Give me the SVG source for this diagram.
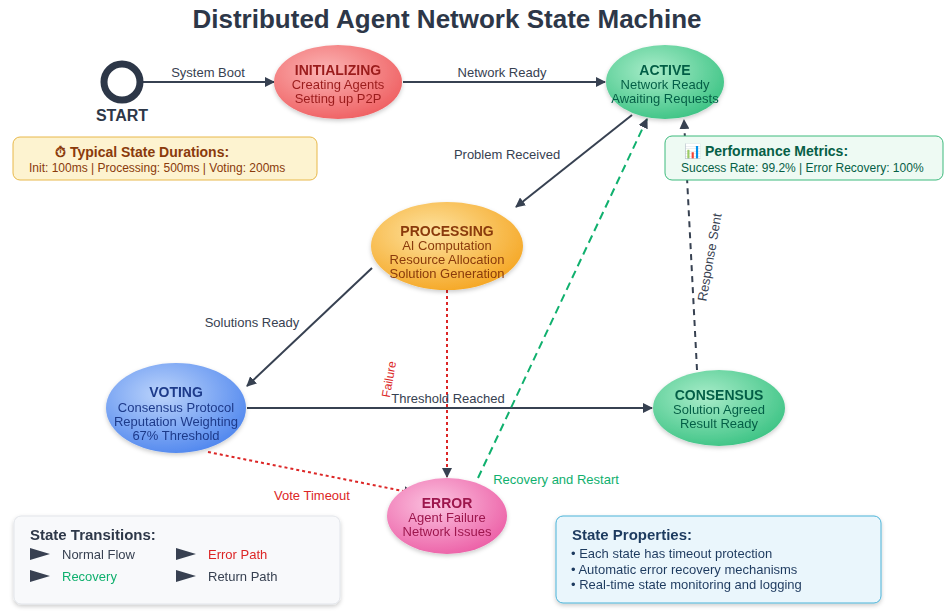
<svg xmlns="http://www.w3.org/2000/svg" width="949" height="614" viewBox="0 0 949 614">
<style>
text{font-family:"Liberation Sans",Arial,sans-serif}
.t{font-size:14px;font-weight:bold;text-anchor:middle}
.s{font-size:13px;text-anchor:middle}
.l{font-size:13px;fill:#374151;text-anchor:middle}
.e{stroke:#374151;stroke-width:2;fill:none}
</style>
<defs>
<marker id="a" viewBox="0 0 10 10" refX="9" refY="5" markerWidth="10" markerHeight="10" markerUnits="userSpaceOnUse" orient="auto"><path d="M0,0 10,5 0,10z" fill="#374151"/></marker>
<marker id="ar" viewBox="0 0 10 10" refX="9" refY="5" markerWidth="10" markerHeight="10" markerUnits="userSpaceOnUse" orient="auto"><path d="M0,0 10,5 0,10z" fill="#374151"/></marker>
<radialGradient id="gr" cx="0.4" cy="0.35" r="0.7"><stop offset="0" stop-color="#fbb4b4"/><stop offset="1" stop-color="#ef5f61"/></radialGradient>
<radialGradient id="gg" cx="0.4" cy="0.35" r="0.7"><stop offset="0" stop-color="#a8ecc9"/><stop offset="1" stop-color="#3cc384"/></radialGradient>
<radialGradient id="go" cx="0.4" cy="0.35" r="0.7"><stop offset="0" stop-color="#fde3a0"/><stop offset="1" stop-color="#f5a623"/></radialGradient>
<radialGradient id="gb" cx="0.4" cy="0.35" r="0.7"><stop offset="0" stop-color="#bcd4fb"/><stop offset="1" stop-color="#4f86ee"/></radialGradient>
<radialGradient id="gp" cx="0.4" cy="0.35" r="0.7"><stop offset="0" stop-color="#fbc3e0"/><stop offset="1" stop-color="#ec5fa6"/></radialGradient>
<filter id="sh" x="-20%" y="-20%" width="140%" height="150%"><feDropShadow dx="0" dy="2" stdDeviation="2" flood-opacity="0.2"/></filter>
</defs>
<rect width="949" height="614" fill="#fff"/>
<text x="447" y="28" font-size="26" font-weight="bold" fill="#2d3748" text-anchor="middle">Distributed Agent Network State Machine</text>

<g id="connectors">
<line class="e" x1="141" y1="82" x2="274" y2="82" marker-end="url(#a)"/>
<line class="e" x1="403" y1="82" x2="605" y2="82" marker-end="url(#a)"/>
<line class="e" x1="632" y1="115" x2="516" y2="207" marker-end="url(#a)"/>
<line class="e" x1="372" y1="268" x2="247" y2="386" marker-end="url(#a)"/>
<line class="e" x1="247" y1="408" x2="652" y2="408" marker-end="url(#a)"/>
<line x1="447" y1="290" x2="447" y2="477" stroke="#dc2626" stroke-width="2" stroke-dasharray="3,3" marker-end="url(#ar)"/>
<line x1="208" y1="452" x2="413" y2="493" stroke="#dc2626" stroke-width="2" stroke-dasharray="3,3" marker-end="url(#ar)"/>
<line x1="478" y1="478" x2="647" y2="119" stroke="#10b06e" stroke-width="2" stroke-dasharray="8,5" marker-end="url(#a)"/>
<line x1="697" y1="370" x2="684" y2="120" stroke="#374151" stroke-width="2" stroke-dasharray="6,5" marker-end="url(#a)"/>
<text class="l" x="208" y="77">System Boot</text>
<text class="l" x="502" y="77">Network Ready</text>
<text class="l" x="507" y="159">Problem Received</text>
<text class="l" x="252" y="327">Solutions Ready</text>
<text class="l" x="448" y="403">Threshold Reached</text>
<text x="393" y="380" font-size="12" fill="#dc2626" text-anchor="middle" transform="rotate(-80 393 380)">Failure</text>
<text x="312" y="500" font-size="13" fill="#dc2626" text-anchor="middle">Vote Timeout</text>
<text x="556" y="484" font-size="13" fill="#10b06e" text-anchor="middle">Recovery and Restart</text>
<text class="l" x="714" y="258" font-size="12" transform="rotate(-80 714 258)">Response Sent</text>
</g>

<g id="start">
<circle cx="122" cy="82" r="18" fill="#fff" stroke="#2d3748" stroke-width="7"/>
<text x="122" y="121" font-size="16" font-weight="bold" fill="#2d3748" text-anchor="middle">START</text>
</g>
<g id="initializing" filter="url(#sh)">
<ellipse cx="338" cy="82" rx="64" ry="37" fill="url(#gr)"/>
<text class="t" x="338" y="75" fill="#9b1c1c">INITIALIZING</text>
<text class="s" x="338" y="89" fill="#9b1c1c">Creating Agents</text>
<text class="s" x="338" y="103" fill="#9b1c1c">Setting up P2P</text>
</g>
<g id="active" filter="url(#sh)">
<ellipse cx="665" cy="82" rx="59" ry="37" fill="url(#gg)"/>
<text class="t" x="665" y="75" fill="#065f46">ACTIVE</text>
<text class="s" x="665" y="89" fill="#065f46">Network Ready</text>
<text class="s" x="665" y="103" fill="#065f46">Awaiting Requests</text>
</g>
<g id="processing" filter="url(#sh)">
<ellipse cx="447" cy="246" rx="76" ry="44" fill="url(#go)"/>
<text class="t" x="447" y="236" fill="#8a3a0b">PROCESSING</text>
<text class="s" x="447" y="250" fill="#8a3a0b">AI Computation</text>
<text class="s" x="447" y="264" fill="#8a3a0b">Resource Allocation</text>
<text class="s" x="447" y="278" fill="#8a3a0b">Solution Generation</text>
</g>
<g id="voting" filter="url(#sh)">
<ellipse cx="176" cy="408" rx="70" ry="45" fill="url(#gb)"/>
<text class="t" x="176" y="397" fill="#1e3a8a">VOTING</text>
<text class="s" x="176" y="412" fill="#1e3a8a">Consensus Protocol</text>
<text class="s" x="176" y="426" fill="#1e3a8a">Reputation Weighting</text>
<text class="s" x="176" y="440" fill="#1e3a8a">67% Threshold</text>
</g>
<g id="consensus" filter="url(#sh)">
<ellipse cx="719" cy="408" rx="66" ry="38" fill="url(#gg)"/>
<text class="t" x="719" y="400" fill="#065f46">CONSENSUS</text>
<text class="s" x="719" y="414" fill="#065f46">Solution Agreed</text>
<text class="s" x="719" y="428" fill="#065f46">Result Ready</text>
</g>
<g id="error" filter="url(#sh)">
<ellipse cx="447" cy="516" rx="60" ry="38" fill="url(#gp)"/>
<text class="t" x="447" y="508" fill="#9d174d">ERROR</text>
<text class="s" x="447" y="522" fill="#9d174d">Agent Failure</text>
<text class="s" x="447" y="536" fill="#9d174d">Network Issues</text>
</g>

<g id="durations">
<rect x="13" y="137" width="304" height="43" rx="7" fill="#fdf3d0" stroke="#e8b84a"/>
<text x="55" y="157" font-size="14" font-weight="bold" fill="#8a3a0b">⏱ Typical State Durations:</text>
<text x="29" y="172" font-size="12" fill="#8a3a0b">Init: 100ms | Processing: 500ms | Voting: 200ms</text>
</g>
<g id="metrics">
<rect x="665" y="136" width="278" height="44" rx="7" fill="#eefaf3" stroke="#3cba7c"/>
<text x="684" y="156" font-size="14" font-weight="bold" fill="#065f46">📊 Performance Metrics:</text>
<text x="681" y="172" font-size="12" fill="#065f46">Success Rate: 99.2% | Error Recovery: 100%</text>
</g>
<g id="legend" filter="url(#sh)">
<rect x="14" y="516" width="326" height="88" rx="7" fill="#f8f9fb" stroke="#e2e5ea"/>
<text x="30" y="540" font-size="15" font-weight="bold" fill="#2d3748">State Transitions:</text>
<path d="M30,548 50,554 30,560z M176,548 196,554 176,560z M30,570 50,576 30,582z M176,570 196,576 176,582z" fill="#374151"/>
<text x="62" y="559" font-size="13" fill="#374151">Normal Flow</text>
<text x="208" y="559" font-size="13" fill="#dc2626">Error Path</text>
<text x="62" y="581" font-size="13" fill="#10b06e">Recovery</text>
<text x="208" y="581" font-size="13" fill="#374151">Return Path</text>
</g>
<g id="properties" filter="url(#sh)">
<rect x="556" y="516" width="325" height="87" rx="7" fill="#eaf6fc" stroke="#4ab3d8"/>
<text x="572" y="540" font-size="15" font-weight="bold" fill="#1e3a5f">State Properties:</text>
<text x="571" y="558" font-size="13" fill="#1e3a5f">• Each state has timeout protection</text>
<text x="571" y="574" font-size="13" fill="#1e3a5f">• Automatic error recovery mechanisms</text>
<text x="571" y="589" font-size="13" fill="#1e3a5f">• Real-time state monitoring and logging</text>
</g>
</svg>
